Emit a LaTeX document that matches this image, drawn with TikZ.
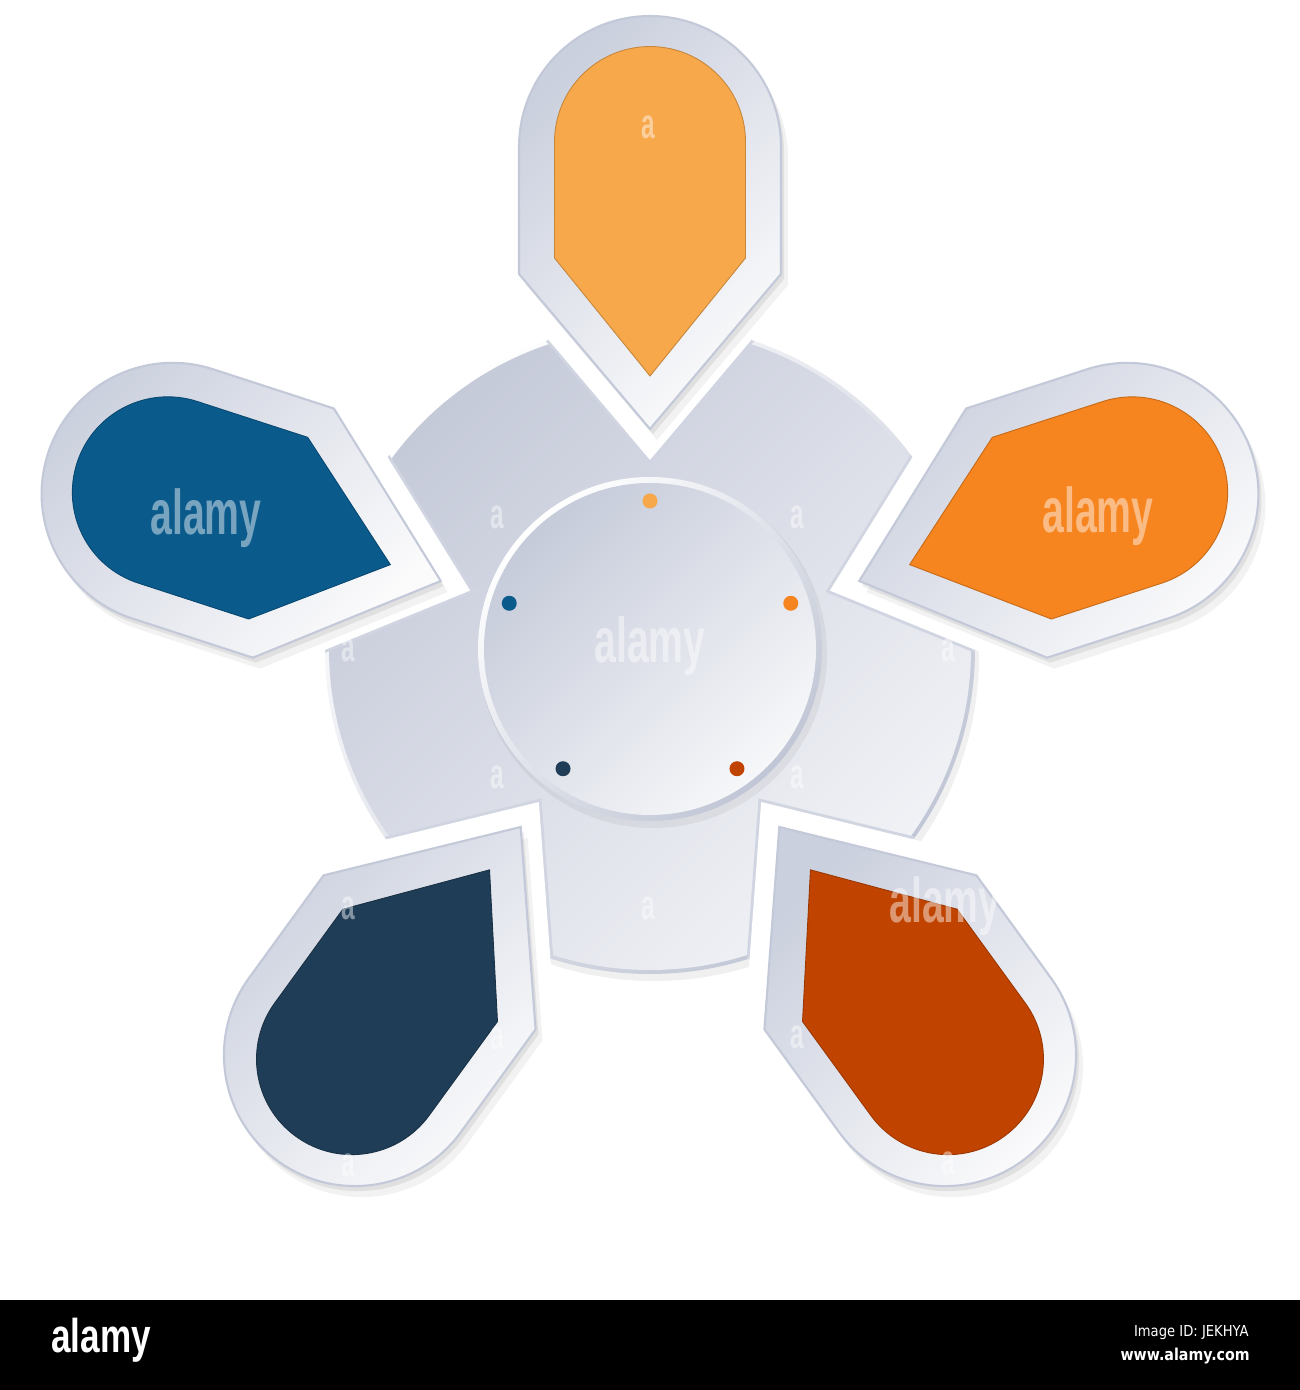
\documentclass[tikz,border=0pt]{standalone}
\usepackage{fontspec}
\setmainfont{Liberation Sans}
\newfontfamily\dejavu{DejaVu Sans}
\usetikzlibrary{calc}
\definecolor{cA}{HTML}{F7A84B}
\definecolor{cB}{HTML}{F6841F}
\definecolor{cC}{HTML}{C04400}
\definecolor{cD}{HTML}{1F3D56}
\definecolor{cE}{HTML}{0A5A8C}
\definecolor{gDark}{HTML}{C5CAD9}
\definecolor{gLight}{HTML}{F1F2F6}
\definecolor{gRim}{HTML}{C0C6D5}
\definecolor{fDark}{HTML}{CBD0DE}
\definecolor{fLight}{HTML}{FBFBFC}
\definecolor{fRim}{HTML}{C3C9D8}
\definecolor{cutRim}{HTML}{D0D5E1}
\definecolor{ciDark}{HTML}{C6CBDA}
\definecolor{ciLight}{HTML}{F6F7F9}
\newcommand\petalouter[1]{({#1}:220) -- ({#1-19.26}:397.2) -- ({#1-14.63}:518.8) arc[start angle={#1-90}, end angle={#1+90}, radius=131] -- ({#1+19.26}:397.2) -- cycle}
\newcommand\petalinner[1]{({#1}:273) -- ({#1-13.73}:402.5) -- ({#1-10.67}:515.9) arc[start angle={#1-90}, end angle={#1+90}, radius=95.5] -- ({#1+13.73}:402.5) -- cycle}
\tikzset{
  wmbig/.style={text=white, text opacity=0.45, inner sep=0pt, xscale=0.62,
    font=\fontsize{36}{36}\selectfont\bfseries},
  wmsmall/.style={text=white, text opacity=0.45, inner sep=0pt, xscale=0.58,
    font=\fontsize{24}{24}\selectfont\bfseries},
}
\begin{document}
\begin{tikzpicture}[x=0.02cm,y=0.02cm]
\useasboundingbox (0,0) rectangle (1300,1390);
\fill[white] (0,0) rectangle (1300,1390);
\fill[black] (0,0) rectangle (1300,90);

\begin{scope}[shift={(650,741)}]
  \coordinate (C) at (0,0);
  % grey body
  \fill[black,opacity=0.06] (4,-7) circle[radius=325];
  \shade[top color=white, bottom color=gRim, shading angle=45] (C) circle[radius=325];
  \shade[top color=gDark, bottom color=gLight, shading angle=45] (C) circle[radius=321];
  % gaps around the tags
  \begin{scope}
    \clip (C) circle[radius=325];
    \foreach \t in {90,18,-54,-126,162}{
      \draw[cutRim, line width=26pt, line join=miter] \petalouter{\t};
    }
  \end{scope}
  \foreach \t in {90,18,-54,-126,162}{
    \filldraw[white, line width=22.7pt, line join=miter] \petalouter{\t};
  }
  % tags
  \foreach \t/\col in {90/cA,18/cB,-54/cC,-126/cD,162/cE}{
    \begin{scope}[shift={(3,-5)}]\fill[black,opacity=0.07]\petalouter{\t};\end{scope}
    \begin{scope}[shift={(7,-11)}]\fill[black,opacity=0.05]\petalouter{\t};\end{scope}
    \shade[top color=fDark, bottom color=fLight, shading angle=45]\petalouter{\t};
    \draw[fRim, line width=1.2pt, line join=miter]\petalouter{\t};
    \fill[\col]\petalinner{\t};
    \draw[\col!80!black, line width=0.5pt, line join=miter]\petalinner{\t};
  }
  % centre disc
  \fill[black,opacity=0.05] (3,-5) circle[radius=174];
  \shade[top color=white, bottom color=gRim, shading angle=45] (C) circle[radius=172];
  \shade[top color=ciDark, bottom color=ciLight, shading angle=45] (C) circle[radius=166];
  \foreach \t/\col in {90/cA,18/cB,-54/cC,-126/cD,162/cE}{
    \fill[\col] (\t:148) circle[radius=7.5];
  }
\end{scope}

% watermark
\node[wmbig, anchor=base] (w1) at (206,855) {alamy};
\node[wmbig, anchor=base] (w2) at (1098,857) {alamy};
\node[wmbig, anchor=base] (w3) at (650,727) {alamy};
\node[wmbig, anchor=base] (w4) at (945,467) {alamy};
\foreach \x/\y [count=\i] in {648/127,797/258,497/517,797/517,348/650,948/650,497/777,797/777,348/908,648/908,497/1038,797/1037,348/1165,948/1163}{
  \node[wmsmall] (a\i) at (\x,1390-\y) {a};
}

% footer
\node[anchor=base west, text=white, inner sep=0pt, xscale=0.74,
  font=\fontsize{27}{27}\selectfont\bfseries] (logo) at (51,37) {alamy};
\node[anchor=base east, text=white, inner sep=0pt, xscale=0.87,
  font=\dejavu\fontsize{8.6}{9}\selectfont] (imgid) at (1249,53) {Image ID: JEKHYA};
\node[anchor=base east, text=white, inner sep=0pt, xscale=0.87,
  font=\dejavu\fontsize{9.3}{10}\selectfont\bfseries] (url) at (1250,30) {www.alamy.com};
\end{tikzpicture}
\end{document}
